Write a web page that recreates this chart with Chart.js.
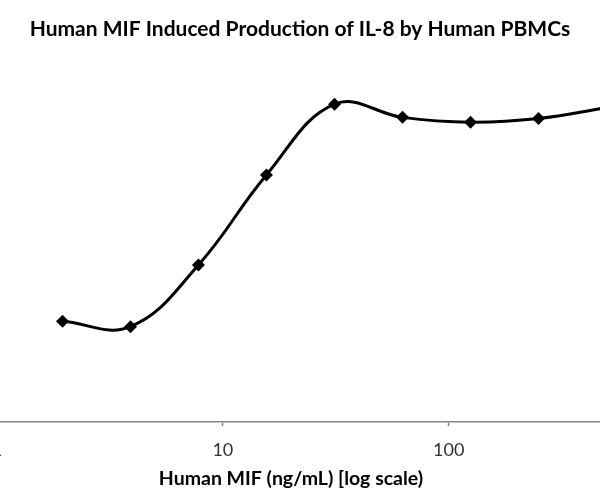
<!DOCTYPE html>
<html>
<head>
<meta charset="utf-8">
<script src="https://cdn.jsdelivr.net/npm/chart.js@4/dist/chart.umd.min.js"></script>
<style>
  html, body { margin: 0; padding: 0; background: #fff; }
  #wrap { position: relative; width: 600px; height: 499px; overflow: hidden; }
  #chart { position: absolute; left: -80px; top: 0; }
</style>
</head>
<body>
<div id="wrap"><canvas id="chart" width="760" height="499"></canvas></div>
<script>
// MIF doses, two-fold dilutions (ng/mL)
const doses = [1.95, 3.9, 7.8, 15.6, 31.25, 62.5, 125, 250, 500];
// IL-8 response (y axis is cropped out of the reference)
const il8 = [840, 795, 1310, 2060, 2650, 2540, 2500, 2530, 2620];
const xTicks = [1, 10, 100, 1000];
const xTitle = 'Human MIF (ng/mL) [log scale)';

const AXIS_GREY = '#868686';
const CANVAS_SHIFT = 80; // canvas sits 80px left of the visible frame

const points = doses.map((d, i) => ({ x: d, y: il8[i] }));

// x axis title is centred on the visible frame, not on the (wider) plot area
const axisTitlePlugin = {
    id: 'axisTitle',
    afterDraw(chart) {
        const ctx = chart.ctx;
        ctx.save();
        ctx.font = 'bold 19.5px Lato';
        ctx.fillStyle = '#000';
        ctx.textAlign = 'center';
        ctx.textBaseline = 'middle';
        ctx.fillText(xTitle, CANVAS_SHIFT + 291, 479);
        ctx.restore();
    }
};

new Chart(document.getElementById('chart'), {
    type: 'line',
    data: {
        datasets: [{
            data: points,
            borderColor: '#000',
            backgroundColor: '#000',
            borderWidth: 3,
            tension: 0.4,
            pointStyle: 'rectRot',
            pointRadius: 6.5,
            pointBorderWidth: 0,
            fill: false
        }]
    },
    options: {
        responsive: false,
        animation: false,
        plugins: {
            legend: { display: false },
            tooltip: { enabled: false },
            title: {
                display: true,
                text: 'Human MIF Induced Production of IL-8 by Human PBMCs',
                color: '#000',
                font: { family: 'Lato', size: 21, weight: 'bold', lineHeight: 1.2 },
                padding: { top: 17, bottom: 20 }
            }
        },
        scales: {
            x: {
                type: 'logarithmic',
                min: 1,
                max: 990,
                afterBuildTicks: (s) => { s.ticks = xTicks.map(v => ({ value: v })); },
                afterFit: (s) => {
                    s.height = 77;
                    s.paddingLeft = 0;
                    s.paddingRight = 0;
                },
                border: { color: AXIS_GREY, width: 1.5 },
                grid: {
                    drawOnChartArea: false,
                    tickLength: 4,
                    tickColor: AXIS_GREY,
                    tickWidth: 1.5
                },
                ticks: {
                    color: '#333',
                    font: { family: 'Lato', size: 18 },
                    padding: 13,
                    maxRotation: 0,
                    autoSkip: false,
                    callback: (v) => String(v)
                },
                title: { display: false }
            },
            y: {
                min: 0,
                max: 3000,
                afterFit: (s) => { s.width = 77; },
                border: { display: false },
                grid: { display: false },
                ticks: { display: false }
            }
        }
    },
    plugins: [axisTitlePlugin]
});
</script>
</body>
</html>
